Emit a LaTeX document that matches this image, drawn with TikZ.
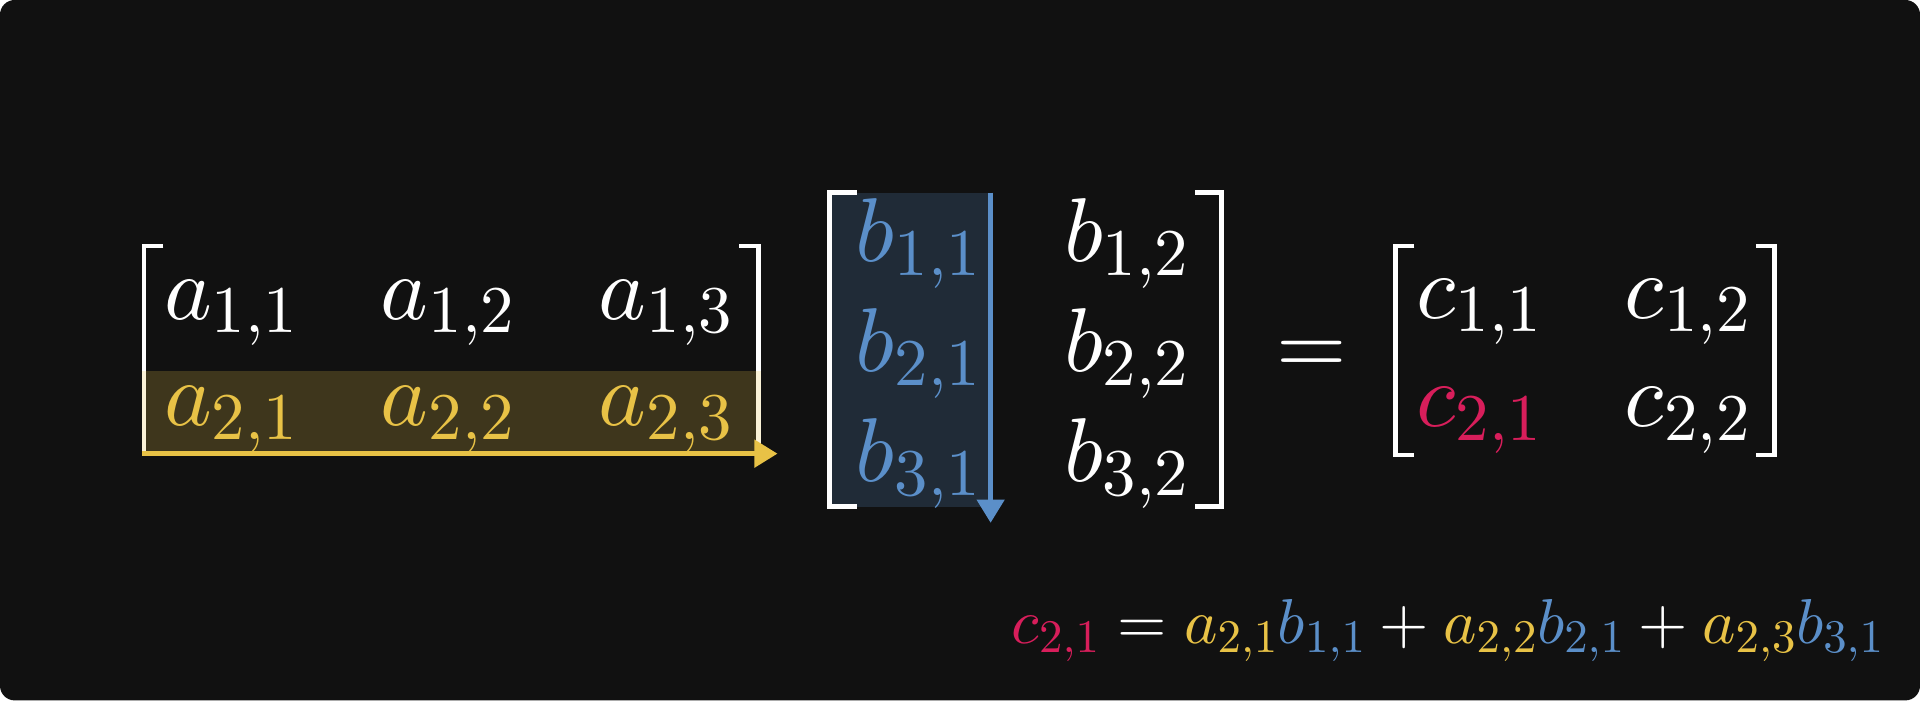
\documentclass[tikz,border=0pt]{standalone}
\usepackage{fix-cm}
\usepackage{amsmath}
\DeclareFontShape{OT1}{cmr}{m}{n}{<-> cmr10}{}
\DeclareFontShape{OML}{cmm}{m}{it}{<-> cmmi10}{}
\DeclareMathSizes{74}{74}{54.5}{40}
\DeclareMathSizes{51.8}{51.8}{38.2}{27.6}
\usetikzlibrary{arrows.meta}
\definecolor{bgdark}{HTML}{111111}
\definecolor{myyellow}{HTML}{E8C246}
\definecolor{myblue}{HTML}{5B8FC9}
\definecolor{myred}{HTML}{D81E5B}
\newcommand\bigfs{\fontsize{74}{88}\selectfont}
\newcommand\smallfs{\fontsize{51.8}{64}\selectfont}
\begin{document}
\begin{tikzpicture}[x=1pt,y=1pt,
  ent/.style={anchor=base west, inner sep=0pt, outer sep=0pt, font=\bigfs, text=white},
  brk/.style={draw=white, line width=3.6pt, line join=miter},
  hl/.style={opacity=0.21},
  arr/.style={line width=4.5pt}]
\fill[white] (0,0) rectangle (1568,572);
\fill[bgdark, rounded corners=12pt] (0,0) rectangle (1568,572);
\useasboundingbox (0,0) rectangle (1568,572);

% ---- matrix A ----
\draw[brk] (133.4,371) -- (117.5,371) -- (117.5,202) -- (133.4,202);
\draw[brk] (603.7,371) -- (619.5,371) -- (619.5,202) -- (603.7,202);
\fill[myyellow, hl] (116,202) rectangle (621.3,269.3);
\node[ent] (a11) at (134,311.2) {$a_{1,1}$};
\node[ent] (a12) at (311,311.2) {$a_{1,2}$};
\node[ent] (a13) at (489,311.2) {$a_{1,3}$};
\node[ent, text=myyellow] (a21) at (134,224.5) {$a_{2,1}$};
\node[ent, text=myyellow] (a22) at (311,224.5) {$a_{2,2}$};
\node[ent, text=myyellow] (a23) at (489,224.5) {$a_{2,3}$};
\coordinate (ya0) at (116,201.5);
\coordinate (ya1) at (635,201.5);
\draw[arr, myyellow, -{Triangle[length=19pt,width=22pt]}] (ya0) -- (ya1);

% ---- matrix B ----
\fill[myblue, hl] (679,158.2) rectangle (808,414.7);
\draw[brk] (699.6,414.7) -- (677.5,414.7) -- (677.5,158.2) -- (699.6,158.2);
\draw[brk] (976,414.7) -- (997.7,414.7) -- (997.7,158.2) -- (976,158.2);
\node[ent, text=myblue] (b11) at (699,358.3) {$b_{1,1}$};
\node[ent, text=myblue] (b21) at (699,268.5) {$b_{2,1}$};
\node[ent, text=myblue] (b31) at (699,178.6) {$b_{3,1}$};
\node[ent] (b12) at (869,358.3) {$b_{1,2}$};
\node[ent] (b22) at (869,268.5) {$b_{2,2}$};
\node[ent] (b32) at (869,178.6) {$b_{3,2}$};
\coordinate (ba0) at (809,414.7);
\coordinate (ba1) at (809,145);
\draw[arr, line width=4pt, myblue, -{Triangle[length=19pt,width=22pt]}] (ba0) -- (ba1);

% ---- equals ----
\node[anchor=base, inner sep=0pt, font=\bigfs, text=white] (eq) at (1071,266.5) {$=$};

% ---- matrix C ----
\draw[brk] (1155,371.1) -- (1139.5,371.1) -- (1139.5,200.4) -- (1155,200.4);
\draw[brk] (1434,371.1) -- (1449.3,371.1) -- (1449.3,200.4) -- (1434,200.4);
\node[ent] (c11) at (1157,312) {$c_{1,1}$};
\node[ent] (c12) at (1327,312) {$c_{1,2}$};
\node[ent, text=myred] (c21) at (1157,223.6) {$c_{2,1}$};
\node[ent] (c22) at (1327,223.6) {$c_{2,2}$};

% ---- formula ----
\node[anchor=base west, inner sep=0pt, font=\smallfs, text=white] (formula) at (826,46.6)
  {$\color{myred}c_{2,1} \color{white}= \color{myyellow}a_{2,1}\color{myblue}b_{1,1} \color{white}+ \color{myyellow}a_{2,2}\color{myblue}b_{2,1} \color{white}+ \color{myyellow}a_{2,3}\color{myblue}b_{3,1}$};
\end{tikzpicture}
\end{document}
